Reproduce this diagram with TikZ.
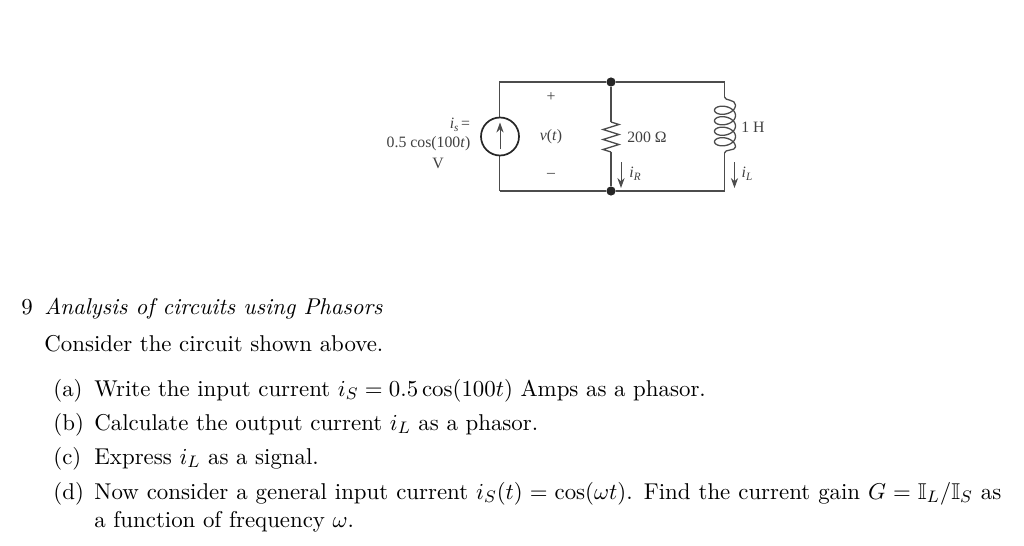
\documentclass[tikz,border=0pt]{standalone}
\usepackage{amssymb}
\usepackage{fontspec}
\newfontfamily\circfont{Liberation Serif}
\usetikzlibrary{decorations.pathmorphing,arrows.meta}
\definecolor{wirecol}{gray}{0.3}
\newcommand{\cursym}[2]{\textit{#1}\raisebox{-0.35ex}{\fontsize{5.6}{6}\selectfont\textit{#2}}}
\tikzset{
  wire/.style={draw=wirecol,line width=0.65pt},
  dotnode/.style={circle,fill=black!85,inner sep=0pt,minimum size=4.6pt},
  sourcenode/.style={circle,draw=black!85,line width=0.85pt,fill=white,inner sep=0pt,minimum size=19pt},
  lab/.style={inner sep=0pt,text=black!75,font=\circfont\fontsize{7.9}{9}\selectfont},
  curr/.style={draw=black!70,line width=0.45pt,-{Stealth[length=5pt,width=3.6pt]}},
  txt/.style={anchor=base west,inner sep=0pt,transform shape,scale=1.044,font=\fontsize{10.95}{13}\selectfont}
}
\begin{document}
\begin{tikzpicture}[x=0.5pt,y=-0.5pt]
    \useasboundingbox (0,0) rectangle (1024,546);
    % circuit
    \node[dotnode] (top) at (611,82) {};
    \node[dotnode] (bot) at (611,191) {};
    \coordinate (tl) at (499.5,82);
    \coordinate (bl) at (499.5,191);
    \coordinate (tr) at (724.5,82);
    \coordinate (br) at (724.5,191);
    \coordinate (ra) at (611,122);
    \coordinate (rb) at (611,152);
    \coordinate (la) at (724.5,97);
    \coordinate (lb) at (724.5,153);
    \draw[wire] (bl) -- (tl) -- (top) -- (tr) -- (la);
    \draw[wire] (bl) -- (bot) -- (br) -- (lb);
    \draw[wire] (top) -- (ra);
    \draw[wire] (rb) -- (bot);
    \draw[wire,decorate,decoration={zigzag,segment length=5pt,amplitude=4pt}] (ra) -- (rb);
    \draw[wire] (la) .. controls (724.5,101) and (735.5,99) .. (735.5,105)
      -- plot[domain=0:1440,samples=145,variable=\t] ({725+10.5*cos(\t)},{105+10.5*\t/360+6.5*sin(\t)})
      .. controls (735.5,151) and (724.5,149) .. (lb);
    \node[sourcenode] (src) at (500,136.5) {};
    \coordinate (sa) at (500,149);
    \coordinate (sb) at (500,122.5);
    \draw[curr] (sa) -- (sb);
    % labels
    \node[lab] (is) at (460,125) {\cursym{i}{s}\,=};
    \node[lab] (srcval) at (428.5,144) {0.5 cos(100\textit{t})};
    \node[lab] (srcunit) at (438,163) {V};
    \node[lab] (vplus) at (551,97.5) {+};
    \node[lab] (vt) at (551,136.5) {\textit{v}(\textit{t})};
    \node[lab] (vminus) at (551,175) {–};
    \node[lab] (rval) at (647,137) {200 Ω};
    \node[lab] (lval) at (753,127) {1 H};
    \coordinate (ira) at (621,162);
    \coordinate (irb) at (621,188);
    \coordinate (ila) at (734.5,162);
    \coordinate (ilb) at (734.5,188);
    \draw[curr] (ira) -- (irb);
    \draw[curr] (ila) -- (ilb);
    \node[lab] (ir) at (635,174) {\cursym{i}{R}};
    \node[lab] (il) at (747,174) {\cursym{i}{L}};
    % question text
    \node[txt] (q0) at (21,314) {9};
    \node[txt] (q1) at (44,314) {\textit{Analysis of circuits using Phasors}};
    \node[txt] (q2) at (44,351) {Consider the circuit shown above.};
    \node[txt] (qa) at (53,396) {(a)};
    \node[txt] (qat) at (94,396) {Write the input current $i_S=0.5\cos(100t)$ Amps as a phasor.};
    \node[txt] (qb) at (53,430) {(b)};
    \node[txt] (qbt) at (94,430) {Calculate the output current $i_L$ as a phasor.};
    \node[txt] (qc) at (53,464) {(c)};
    \node[txt] (qct) at (94,464) {Express $i_L$ as a signal.};
    \node[txt] (qd) at (53,499) {(d)};
    \node[txt] (qdt) at (94,499) {\makebox[434.4pt][s]{Now consider a general input current $i_S(t)=\cos(\omega t)$. Find the current gain $G=\mathbb{I}_L/\mathbb{I}_S$ as}};
    \node[txt] (qe) at (94,527) {a function of frequency $\omega$.};
\end{tikzpicture}
\end{document}
